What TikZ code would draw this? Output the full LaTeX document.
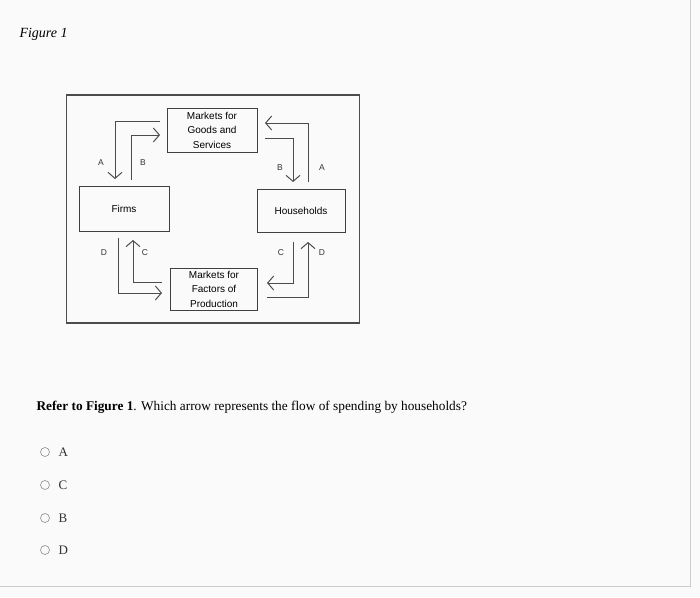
\documentclass[tikz,border=0pt]{standalone}
\usepackage{fontspec}
\setmainfont{Liberation Serif}
\setsansfont{Liberation Sans}
\usetikzlibrary{arrows.meta}
\begin{document}
\begin{tikzpicture}[x=1pt,y=-1pt,
  box/.style={draw=black!75,line width=1pt,inner sep=0pt,font=\sffamily\fontsize{10}{14.5}\selectfont,align=center},
  flow/.style={draw=black!70,line width=1pt,-{Straight Barb[length=6pt,width=14pt]}},
  lab/.style={font=\sffamily\fontsize{8.5}{10}\selectfont,text=black!80},
  opt/.style={draw=black!45,circle,minimum size=9pt,inner sep=0pt,line width=0.6pt}]
\useasboundingbox (0,0) rectangle (700,597);
\fill[black!2] (0,0) rectangle (700,597);
\draw[black!20] (0,586) -- (690,586) -- (690,0);
\node[anchor=west,font=\itshape\fontsize{14}{16}\selectfont] (fig) at (16,34) {Figure 1};
\node[draw=black!70,line width=1.2pt,minimum width=293pt,minimum height=228pt] (outer) at (213,209) {};
\node[box,minimum width=90pt,minimum height=44pt] (goods) at (212,130) {Markets for\\Goods and\\Services};
\node[box,minimum width=90pt,minimum height=45pt] (firms) at (124,209) {Firms};
\node[box,minimum width=88pt,minimum height=43pt] (house) at (301,211) {Households};
\node[box,minimum width=87pt,minimum height=42pt] (factors) at (214,289) {Markets for\\Factors of\\Production};
\coordinate (a1) at (160,121); \coordinate (a2) at (115,179);
\draw[flow] (a1) -| (a2);
\coordinate (b1) at (131,180); \coordinate (b2) at (160,135);
\draw[flow] (b1) |- (b2);
\coordinate (a3) at (308,182); \coordinate (a4) at (265,123);
\draw[flow] (a3) |- (a4);
\coordinate (b3) at (265,138); \coordinate (b4) at (293,182);
\draw[flow] (b3) -| (b4);
\coordinate (d1) at (118,238); \coordinate (d2) at (162,293);
\draw[flow] (d1) |- (d2);
\coordinate (c1) at (162,282); \coordinate (c2) at (133,240);
\draw[flow] (c1) -| (c2);
\coordinate (c3) at (293,242); \coordinate (c4) at (267,283);
\draw[flow] (c3) |- (c4);
\coordinate (d3) at (267,297); \coordinate (d4) at (308,242);
\draw[flow] (d3) -| (d4);
\node[lab] (lA1) at (101,163) {A};
\node[lab] (lB1) at (143,163) {B};
\node[lab] (lB2) at (280,168) {B};
\node[lab] (lA2) at (322,168) {A};
\node[lab] (lD1) at (104,253) {D};
\node[lab] (lC1) at (145,253) {C};
\node[lab] (lC2) at (281,253) {C};
\node[lab] (lD2) at (322,253) {D};
\node[anchor=west,font=\fontsize{13.3}{15}\selectfont] (q) at (33,407) {\textbf{Refer to Figure 1}. Which arrow represents the flow of spending by households?};
\foreach \y/\t/\n in {452/A/oa,485/C/oc,518/B/ob,550/D/od}{
  \node[opt] (\n) at (45,\y) {};
  \node[anchor=west,font=\fontsize{13}{15}\selectfont,text=black!80] (\n t) at (55,\y) {\t};
}
\end{tikzpicture}
\end{document}
